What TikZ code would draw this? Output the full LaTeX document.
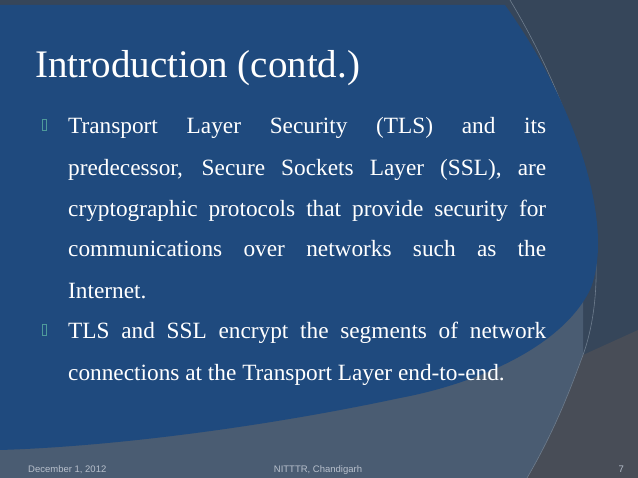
\documentclass[tikz,border=0pt]{standalone}
\usepackage{fontspec}
\setmainfont{Liberation Serif}
\newfontfamily\footfont{Liberation Sans}
\definecolor{bgdark}{HTML}{36465A}
\definecolor{lightband}{HTML}{4A5C72}
\definecolor{grayreg}{HTML}{484D57}
\definecolor{slideblue}{HTML}{1F4A7E}
\definecolor{bulletc}{HTML}{4E9A9A}
\definecolor{footc}{HTML}{B8C0CC}
\newcommand{\fullline}[1]{\makebox[478pt][s]{#1}}
\tikzset{
  ln/.style={anchor=base west,inner sep=0pt,text=white,font=\fontsize{23.3pt}{28pt}\selectfont},
  bulletbox/.style={draw=bulletc,line width=0.8pt,minimum width=4pt,minimum height=11pt,inner sep=0pt},
  foot/.style={text=footc,font=\footfont\fontsize{9.5pt}{11pt}\selectfont,inner sep=0pt}
}
\begin{document}
\begin{tikzpicture}[x=1pt,y=-1pt]
\useasboundingbox (0,0) rectangle (638,478);
\fill[bgdark] (0,0) rectangle (638,478);
\fill[lightband] (0,478) -- (527,478) .. controls (555,430) and (570,390) .. (583,355) -- (583,290) -- (0,290) -- cycle;
\fill[grayreg] (583,355) -- (638,330) -- (638,478) -- (527,478) .. controls (555,430) and (570,390) .. (583,355) -- cycle;
\draw[lightband!80!white,line width=0.6pt] (510,0) .. controls (600,150) and (610,280) .. (583,355) .. controls (570,390) and (555,430) .. (527,478);
\fill[slideblue] (0,5) -- (505,5) .. controls (580,110) and (615,230) .. (590,290) .. controls (560,350) and (470,385) .. (400,398) .. controls (250,430) and (100,447) .. (0,450) -- cycle;
\node[anchor=base west,inner sep=0pt,text=white,font=\fontsize{39pt}{42pt}\selectfont] (title) at (35,78) {Introduction (contd.)};
\node[bulletbox] (b1) at (44,125) {};
\node[ln] (l1) at (68,134) {\fullline{Transport Layer Security (TLS) and its}};
\node[ln] (l2) at (68,176) {\fullline{predecessor, Secure Sockets Layer (SSL), are}};
\node[ln] (l3) at (68,217) {\fullline{cryptographic protocols that provide security for}};
\node[ln] (l4) at (68,257) {\fullline{communications over networks such as the}};
\node[ln] (l5) at (68,299) {Internet.};
\node[bulletbox] (b2) at (44,330) {};
\node[ln] (l6) at (68,339) {\fullline{TLS and SSL encrypt the segments of network}};
\node[ln] (l7) at (68,381) {connections at the Transport Layer end-to-end.};
\node[foot,anchor=base west] (f1) at (28,473) {December 1, 2012};
\node[foot,anchor=base] (f2) at (318,473) {NITTTR, Chandigarh};
\node[foot,anchor=base east] (f3) at (624,473) {7};
\end{tikzpicture}
\end{document}
